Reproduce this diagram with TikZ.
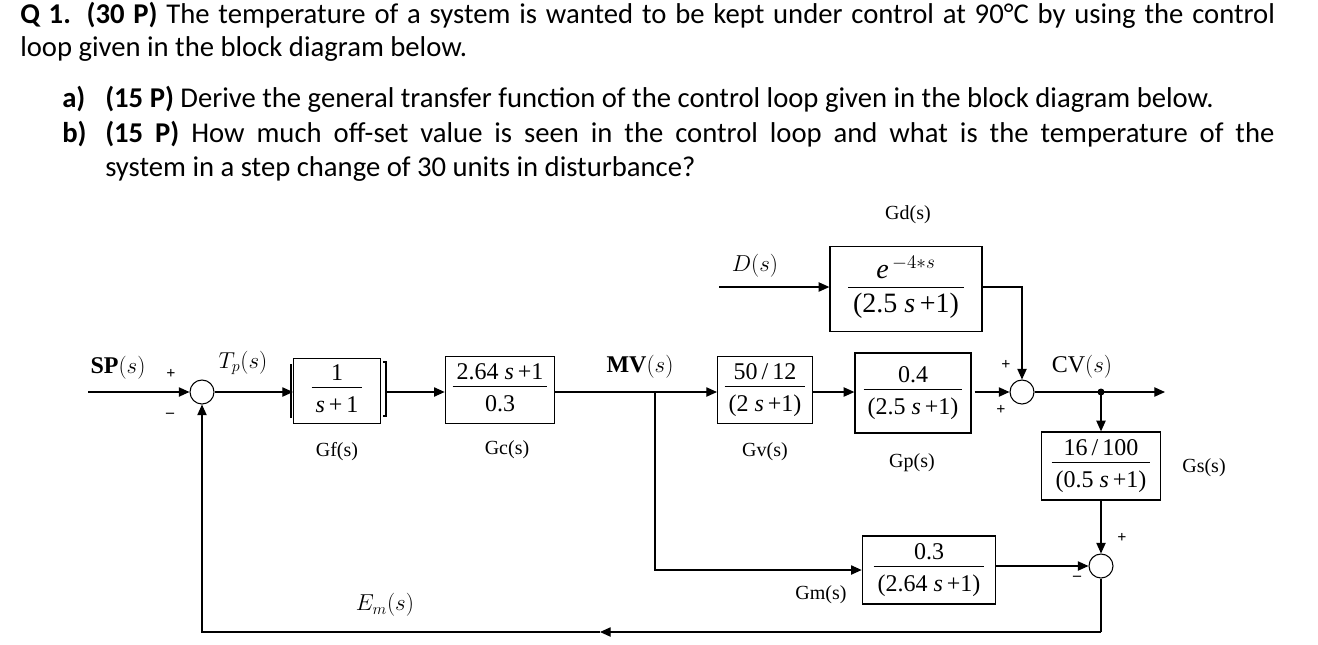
\documentclass[tikz,border=0pt]{standalone}
\usepackage{fontspec}
\setmainfont{Liberation Serif}
\newfontfamily\hdfont{Carlito}
\usetikzlibrary{arrows.meta}
\newcommand{\fr}[2]{\begin{tabular}{@{\,}c@{\,}}#1\\[-1pt]\hline\rule{0pt}{19pt}#2\end{tabular}}
\tikzset{
 blk/.style={draw,line width=1pt,inner sep=0pt,font=\fontsize{18}{20}\selectfont},
 sm/.style={draw,circle,minimum size=18pt,inner sep=0pt,line width=0.8pt},
 ln/.style={line width=0.9pt},
 ar/.style={ln,-{Triangle[length=8pt,width=7pt]}},
 lab/.style={font=\fontsize{15}{17}\selectfont,inner sep=0pt},
 big/.style={font=\fontsize{18}{20}\selectfont,inner sep=0pt},
 sg/.style={font=\fontsize{12}{12}\selectfont\bfseries,inner sep=0pt},
 hd/.style={font=\hdfont\fontsize{21.5}{24}\selectfont,anchor=west,inner sep=0pt}
}
\begin{document}
\begin{tikzpicture}[x=0.75pt,y=-0.75pt]
\useasboundingbox (0,0) rectangle (1318,644);
% header
\node[hd] (h1) at (20,15) {\makebox[941pt][s]{\textbf{Q 1. (30 P)} The temperature of a system is wanted to be kept under control at 90°C by using the control}};
\node[hd] (h2) at (20,49) {loop given in the block diagram below.};
\node[hd] (ha) at (62,99) {\textbf{a)}};
\node[hd] (ha2) at (105,99) {\textbf{(15 P)} Derive the general transfer function of the control loop given in the block diagram below.};
\node[hd] (hb) at (62,134) {\textbf{b)}};
\node[hd] (hb2) at (105,134) {\makebox[877pt][s]{\textbf{(15 P)} How much off-set value is seen in the control loop and what is the temperature of the}};
\node[hd] (hb3) at (105,169) {system in a step change of 30 units in disturbance?};
% blocks
\node[sm] (s1) at (202,392) {};
\node[blk,minimum width=65pt,minimum height=49pt] (Gf) at (337,391) {\fr{1}{\textit{s}\,+\,1}};
\node[blk,minimum width=82pt,minimum height=50pt] (Gc) at (500,390) {\fr{2.64 \textit{s}\,+1}{0.3}};
\node[blk,minimum width=71pt,minimum height=50pt] (Gv) at (765,390) {\fr{50\,/\,12}{(2 \textit{s}\,+1)}};
\node[blk,minimum width=87pt,minimum height=60pt] (Gp) at (913,393) {\fr{0.4}{(2.5 \textit{s}\,+1)}};
\node[blk,minimum width=114pt,minimum height=64pt,font=\fontsize{21}{23}\selectfont] (Gd) at (906,289) {\fr{\textit{e}$^{\,-4*s}$}{(2.5 \textit{s}\,+1)}};
\node[sm] (s2) at (1022,392) {};
\node[blk,minimum width=89pt,minimum height=51pt] (Gs) at (1101,466) {\fr{16\,/\,100}{(0.5 \textit{s}\,+1)}};
\node[blk,minimum width=100pt,minimum height=51pt] (Gm) at (929,570) {\fr{0.3}{(2.64 \textit{s}\,+1)}};
\node[sm] (s3) at (1101,566) {};
% coordinates
\coordinate (spin) at (88,392);
\coordinate (din) at (719,287);
\coordinate (mv) at (655,392);
\coordinate (cvd) at (1101,392);
\coordinate (out) at (1165,392);
\coordinate (fb) at (1101,632);
\coordinate (fbl) at (202,632);
\coordinate (fbar) at (600,632);
% connectors
\draw[ar] (spin) -- (s1);
\draw[ar] (s1) -- (Gf.west|-s1);
\draw[ar] (Gf.east|-s1) ++(6,0) -- (Gc.west|-s1);
\draw[ln] (Gc.east|-s1) -- (mv);
\draw[ar] (mv) -- (Gv.west|-s1);
\draw[ar] (Gv.east|-s1) -- (Gp.west|-s1);
\draw[ar] (Gp.east|-s1) ++(3,0) -- (s2);
\draw[ar] (din) -- (Gd.west|-din);
\draw[ar] (Gd.east|-din) -| (s2);
\draw[ar] (s2) -- (out);
\fill (cvd) circle (3.5);
\draw[ar] (cvd) -- (Gs.north-|cvd);
\draw[ar] (Gs) -- (s3);
\draw[ar] (mv) |- (Gm.west);
\draw[ar] (Gm.east|-s3) -- (s3);
\draw[ln] (s3) -- (fb);
\draw[ar] (fb) -- (fbar);
\draw[ar] (fbar) -- (fbl) -- (s1);
% bracket marks on Gf
\draw[ln] (291,364) -- (291,418);
\draw[ln] (383,362) -- (386,362) -- (386,416) -- (383,416);
% labels
\node[big] (lsp) at (118,368) {\textbf{SP}$(s)$};
\node[sg] (p1) at (171,374) {+};
\node[sg] (m1) at (170,415) {--};
\node[big] (ltp) at (243,363) {$T_p(s)$};
\node[lab] (lgf) at (337,452) {Gf(s)};
\node[lab] (lgc) at (507,450) {Gc(s)};
\node[big] (lmv) at (640,367) {\textbf{MV}$(s)$};
\node[big] (ld) at (755,266) {$D(s)$};
\node[lab] (lgd) at (908,215) {Gd(s)};
\node[lab] (lgv) at (765,452) {Gv(s)};
\node[lab] (lgp) at (912,463) {Gp(s)};
\node[sg] (p2) at (1006,365) {+};
\node[sg] (p3) at (1001,410) {+};
\node[big] (lcv) at (1082,367) {CV$(s)$};
\node[lab] (lgs) at (1204,468) {Gs(s)};
\node[sg] (p4) at (1122,538) {+};
\node[sg] (m3) at (1077,578) {--};
\node[lab] (lgm) at (821,595) {Gm(s)};
\node[big] (lem) at (385,605) {$E_m(s)$};
\end{tikzpicture}
\end{document}
